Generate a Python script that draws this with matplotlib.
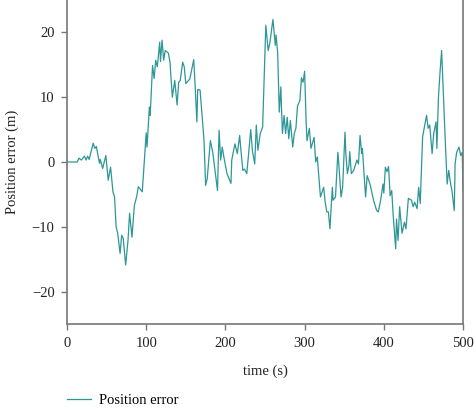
import matplotlib
matplotlib.use('Agg')
import matplotlib.pyplot as plt

# values
time_s = [0, 13, 15, 18, 22, 24, 26, 28, 33, 35, 37, 41, 42, 45, 49, 52, 55, 58, 60,
          62, 64, 67, 69, 71, 74, 77, 79, 82, 85, 88, 90, 95, 98, 100, 101, 104, 105,
          108, 110, 112, 114, 117, 118, 120, 122, 124, 128, 130, 133, 136, 139, 141,
          143, 146, 148, 150, 155, 160, 161, 164, 165, 168, 173, 175, 177, 181, 184,
          190, 192, 194, 196, 198, 202, 207, 208, 212, 215, 218, 219, 222, 224, 227,
          232, 234, 237, 239, 241, 244, 247, 251, 254, 256, 260, 263, 264, 266, 268,
          270, 271, 272, 274, 276, 278, 280, 282, 285, 287, 289, 291, 294, 296, 298,
          300, 302, 303, 306, 308, 312, 314, 316, 320, 324, 326, 328, 330, 332, 335,
          336, 339, 342, 343, 346, 348, 351, 352, 354, 356, 357, 359, 362, 366, 368,
          370, 372, 373, 375, 377, 379, 383, 387, 391, 393, 396, 399, 400, 402, 404,
          406, 408, 410, 412, 415, 416, 418, 420, 423, 426, 428, 431, 435, 437, 439,
          442, 444, 446, 449, 452, 454, 456, 458, 461, 463, 466, 467, 469, 471, 473,
          476, 478, 480, 482, 484, 486, 489, 490, 492, 495, 497, 499, 500]
position_error = [0.0, 0.0, 0.6, 0.3, 0.9, 0.3, 0.9, 0.4, 2.9, 2.1, 2.4, -0.2, 0.4,
                  -1.0, 1.0, -2.8, -0.8, -4.6, -5.4, -10.0, -11.0, -14.1, -11.3, -11.8,
                  -15.9, -12.1, -7.9, -11.6, -6.7, -5.3, -3.8, -4.6, 0.8, 4.5, 2.3, 8.5,
                  7.2, 14.9, 12.9, 15.7, 14.7, 18.5, 15.5, 18.8, 15.7, 17.2, 16.8, 15.4,
                  10.0, 12.6, 8.8, 12.3, 12.6, 15.4, 14.7, 12.1, 12.8, 15.8, 13.6, 6.2,
                  11.2, 11.1, 3.3, -3.6, -2.6, 3.3, 1.5, -4.4, 4.9, 0.3, 2.3, 0.8, -1.8,
                  -3.3, 0.3, 2.8, 1.3, 4.1, 2.6, -1.3, -1.1, -1.8, 5.0, 1.8, -0.3, 5.7,
                  1.8, 4.4, 5.4, 21.1, 17.2, 18.3, 22.0, 18.0, 19.6, 16.8, 7.7, 11.6, 7.7,
                  4.4, 7.2, 4.4, 6.9, 3.6, 6.4, 2.3, 4.4, 5.2, 8.6, 9.5, 13.0, 12.3, 14.0,
                  5.9, 3.3, 5.2, 2.1, 3.8, 0.0, 0.8, -5.4, -3.9, -6.2, -7.7, -7.7, -10.3,
                  -3.9, -5.9, -5.4, 1.5, 0.0, -5.4, -3.9, 4.6, 1.5, -1.8, -0.5, 1.6, -1.8,
                  -1.3, 0.3, -0.3, 4.1, 1.3, 2.1, -1.8, -5.4, -2.1, -3.6, -5.9, -7.5, -7.7,
                  -5.9, -3.4, -4.8, -0.8, -1.5, -0.7, -5.2, -4.4, -8.5, -13.4, -8.8,
                  -12.1, -6.9, -11.0, -9.3, -10.3, -5.6, -5.9, -6.9, -6.2, -7.2, -3.9,
                  -6.4, 3.9, 5.9, 7.2, 5.2, 5.7, 1.3, 4.4, 6.2, 2.1, 10.0, 13.9, 17.2,
                  8.0, 2.1, -3.4, -1.3, -3.1, -4.4, -7.5, -0.3, 1.5, 2.3, 1.0, 1.5, -4.4]

plt.rcParams['font.family'] = ['Liberation Serif', 'DejaVu Serif']
plt.rcParams['font.size'] = 10.5

fig = plt.figure(figsize=(4.74, 4.09), dpi=100)
ax = fig.add_axes([0.1414, 0.2078, 0.8354, 0.7922])
line, = ax.plot(time_s, position_error, color='#2e9696', linewidth=0.9,
                label='Position error')

ax.set_xlim(0, 500)
ax.set_ylim(-25, 25)
ax.set_xticks([0, 100, 200, 300, 400, 500])
ax.set_yticks([-20, -10, 0, 10, 20])
ax.set_xlabel('time (s)', color='#222222', labelpad=11)
ax.set_ylabel('Position error (m)', color='#222222', labelpad=9)

for side in ['left', 'right', 'bottom']:
    ax.spines[side].set_color('#777777')
    ax.spines[side].set_linewidth(1.2)
ax.spines['top'].set_visible(False)
ax.tick_params(direction='out', length=4, width=1, color='#777777',
               labelcolor='#222222', pad=5)

fig.legend(handles=[line], loc='lower left', bbox_to_anchor=(0.113, -0.027),
           frameon=False, handlelength=1.65, handletextpad=0.6)

fig.savefig('out.png', dpi=100)
